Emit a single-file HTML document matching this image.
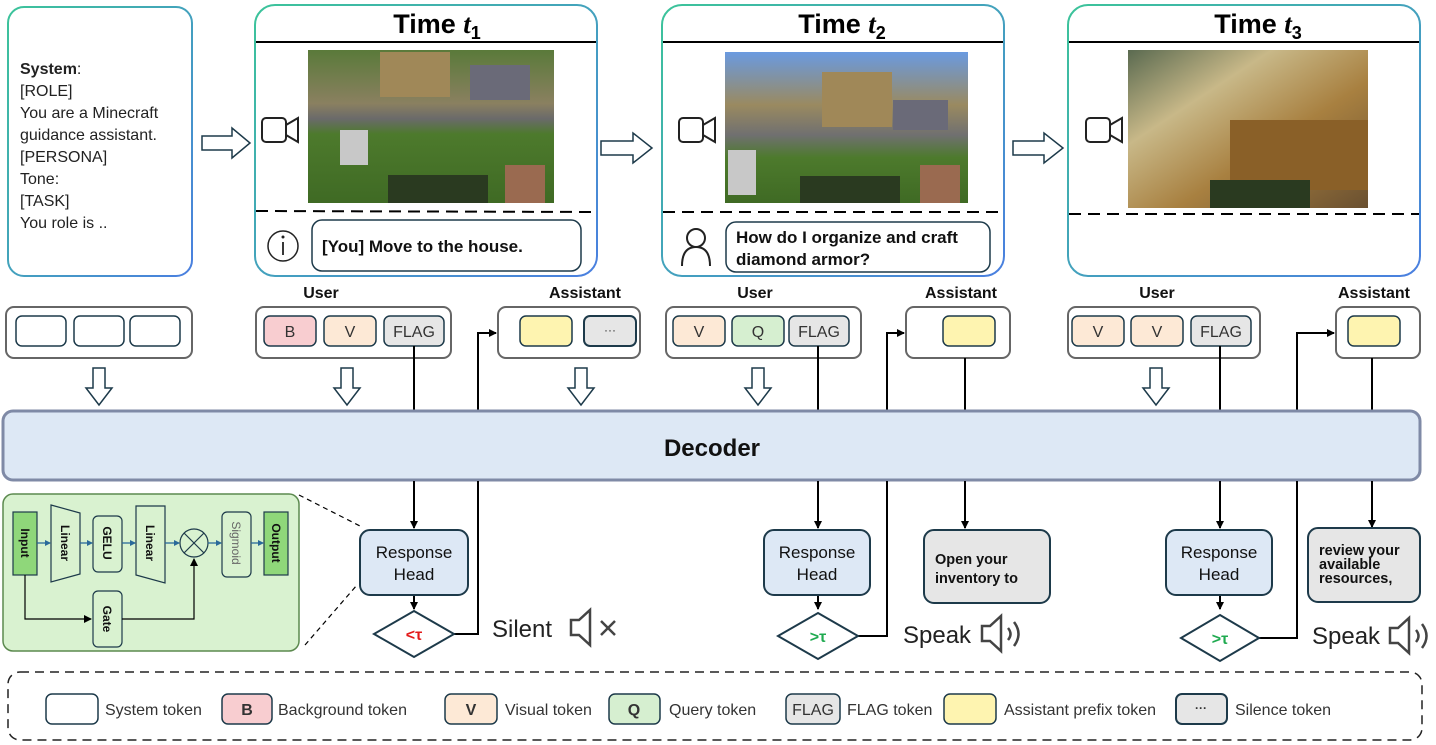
<!DOCTYPE html>
<html><head><meta charset="utf-8"><style>
html,body{margin:0;padding:0;background:#fff;}
svg{display:block;font-family:"Liberation Sans","DejaVu Sans",sans-serif;}
</style></head><body>
<svg width="1436" height="745" viewBox="0 0 1436 745" xmlns="http://www.w3.org/2000/svg">
<defs>
<linearGradient id="pg" x1="0" y1="0" x2="1" y2="1"><stop offset="0" stop-color="#3cc49a"/><stop offset="1" stop-color="#4a7fe0"/></linearGradient>
<marker id="ah" markerWidth="8" markerHeight="8" refX="7" refY="4" orient="auto" markerUnits="userSpaceOnUse"><path d="M0,0 L8,4 L0,8 z" fill="#000"/></marker>
<marker id="bh" markerWidth="6" markerHeight="6" refX="5" refY="3" orient="auto" markerUnits="userSpaceOnUse"><path d="M0,0 L6,3 L0,6 z" fill="#2a6a9a"/></marker>
<linearGradient id="sky" x1="0" y1="0" x2="0" y2="1"><stop offset="0" stop-color="#5a7a3a"/><stop offset="0.35" stop-color="#8a8060"/><stop offset="0.45" stop-color="#6a6a6a"/><stop offset="0.55" stop-color="#4d7a2c"/><stop offset="1" stop-color="#3f6a24"/></linearGradient>
<linearGradient id="sky2" x1="0" y1="0" x2="0" y2="1"><stop offset="0" stop-color="#6a9ae0"/><stop offset="0.35" stop-color="#9a8a60"/><stop offset="0.55" stop-color="#707070"/><stop offset="0.7" stop-color="#4d7a2c"/><stop offset="1" stop-color="#3f6a24"/></linearGradient>
<linearGradient id="sky3" x1="0" y1="0" x2="1" y2="1"><stop offset="0" stop-color="#5a6a50"/><stop offset="0.3" stop-color="#c8b888"/><stop offset="0.6" stop-color="#a88040"/><stop offset="1" stop-color="#6a5030"/></linearGradient>
</defs>

<!-- System panel -->
<rect x="8" y="7" width="184" height="269" rx="16" fill="#fff" stroke="url(#pg)" stroke-width="2"/>
<g font-size="16" fill="#222">
<text x="20" y="74"><tspan font-weight="bold">System</tspan>:</text>
<text x="20" y="96">[ROLE]</text>
<text x="20" y="118">You are a Minecraft</text>
<text x="20" y="140">guidance assistant.</text>
<text x="20" y="162">[PERSONA]</text>
<text x="20" y="184">Tone:</text>
<text x="20" y="206">[TASK]</text>
<text x="20" y="228">You role is ..</text>
</g>

<!-- hollow right arrows -->
<g fill="#fff" stroke="#1d3a4a" stroke-width="1.5">
<path d="M202,136 L232,136 L232,128 L250,143 L232,158 L232,150 L202,150 z"/>
<path d="M601,141 L633,141 L633,133 L652,148 L633,163 L633,155 L601,155 z"/>
<path d="M1013,141 L1044,141 L1044,133 L1063,148 L1044,163 L1044,155 L1013,155 z"/>
</g>

<!-- Panels -->
<g>
<rect x="255" y="5" width="342" height="271" rx="20" fill="#fff" stroke="url(#pg)" stroke-width="2"/>
<line x1="256" y1="42" x2="596" y2="42" stroke="#000" stroke-width="2"/>
<line x1="256" y1="211" x2="596" y2="212" stroke="#000" stroke-width="2" stroke-dasharray="12,7"/>
<text x="437" y="33" font-size="27" font-weight="bold" text-anchor="middle">Time <tspan font-family="Liberation Serif" font-style="italic">t</tspan><tspan font-size="18" dy="6">1</tspan></text>
<rect x="308" y="50" width="246" height="153" fill="url(#sky)"/>
<rect x="380" y="52" width="70" height="45" fill="#a08858"/>
<rect x="470" y="65" width="60" height="35" fill="#6a6a78"/>
<rect x="340" y="130" width="28" height="35" fill="#c8c8c8"/>
<rect x="388" y="175" width="100" height="28" fill="#2a3a20"/>
<rect x="505" y="165" width="40" height="38" fill="#9a6a50"/>
<rect x="262" y="118" width="24" height="24" rx="4" fill="none" stroke="#222" stroke-width="2"/>
<path d="M286,125 L298,118 L298,142 L286,135" fill="none" stroke="#222" stroke-width="2"/>
<circle cx="283" cy="246" r="15" fill="none" stroke="#222" stroke-width="1.5"/>
<line x1="283" y1="242" x2="283" y2="255" stroke="#222" stroke-width="1.8"/>
<circle cx="283" cy="237" r="1.5" fill="#222"/>
<rect x="312" y="220" width="269" height="51" rx="10" fill="#fff" stroke="#1d3a4a" stroke-width="1.5"/>
<text x="322" y="252" font-size="17" font-weight="bold" fill="#111">[You] Move to the house.</text>
</g>

<g>
<rect x="662" y="5" width="342" height="271" rx="20" fill="#fff" stroke="url(#pg)" stroke-width="2"/>
<line x1="663" y1="42" x2="1003" y2="42" stroke="#000" stroke-width="2"/>
<line x1="663" y1="212" x2="1003" y2="212" stroke="#000" stroke-width="2" stroke-dasharray="12,7"/>
<text x="842" y="33" font-size="27" font-weight="bold" text-anchor="middle">Time <tspan font-family="Liberation Serif" font-style="italic">t</tspan><tspan font-size="18" dy="6">2</tspan></text>
<rect x="725" y="52" width="243" height="151" fill="url(#sky2)"/>
<rect x="822" y="72" width="70" height="55" fill="#a08858"/>
<rect x="893" y="100" width="55" height="30" fill="#6a6a78"/>
<rect x="728" y="150" width="28" height="45" fill="#c8c8c8"/>
<rect x="800" y="176" width="100" height="27" fill="#2a3a20"/>
<rect x="920" y="165" width="40" height="38" fill="#9a6a50"/>
<rect x="679" y="118" width="24" height="24" rx="4" fill="none" stroke="#222" stroke-width="2"/>
<path d="M703,125 L715,118 L715,142 L703,135" fill="none" stroke="#222" stroke-width="2"/>
<circle cx="696" cy="238" r="9" fill="none" stroke="#222" stroke-width="2"/>
<path d="M682,266 Q682,247 696,247 Q710,247 710,266" fill="none" stroke="#222" stroke-width="2"/>
<rect x="726" y="222" width="264" height="50" rx="10" fill="#fff" stroke="#1d3a4a" stroke-width="1.5"/>
<text x="736" y="243" font-size="17" font-weight="bold" fill="#111">How do I organize and craft</text>
<text x="736" y="265" font-size="17" font-weight="bold" fill="#111">diamond armor?</text>
</g>

<g>
<rect x="1068" y="5" width="352" height="271" rx="20" fill="#fff" stroke="url(#pg)" stroke-width="2"/>
<line x1="1069" y1="42" x2="1419" y2="42" stroke="#000" stroke-width="2"/>
<line x1="1069" y1="214" x2="1419" y2="214" stroke="#000" stroke-width="2" stroke-dasharray="12,7"/>
<text x="1258" y="33" font-size="27" font-weight="bold" text-anchor="middle">Time <tspan font-family="Liberation Serif" font-style="italic">t</tspan><tspan font-size="18" dy="6">3</tspan></text>
<rect x="1128" y="50" width="240" height="158" fill="url(#sky3)"/>
<rect x="1230" y="120" width="138" height="70" fill="#8a6028"/>
<rect x="1210" y="180" width="100" height="28" fill="#2a3a20"/>
<rect x="1086" y="118" width="24" height="24" rx="4" fill="none" stroke="#222" stroke-width="2"/>
<path d="M1110,125 L1122,118 L1122,142 L1110,135" fill="none" stroke="#222" stroke-width="2"/>
</g>

<!-- labels -->
<g font-size="16" font-weight="bold" fill="#111" text-anchor="middle">
<text x="321" y="298">User</text>
<text x="585" y="298">Assistant</text>
<text x="755" y="298">User</text>
<text x="961" y="298">Assistant</text>
<text x="1157" y="298">User</text>
<text x="1374" y="298">Assistant</text>
</g>

<!-- token groups -->
<g fill="#fff" stroke="#666" stroke-width="2">
<rect x="6" y="307" width="186" height="51" rx="8"/>
<rect x="256" y="307" width="195" height="51" rx="8"/>
<rect x="498" y="307" width="142" height="51" rx="8"/>
<rect x="666" y="307" width="195" height="51" rx="8"/>
<rect x="906" y="307" width="104" height="51" rx="8"/>
<rect x="1068" y="307" width="192" height="51" rx="8"/>
<rect x="1336" y="307" width="84" height="51" rx="8"/>
</g>
<g stroke="#1d3a4a" stroke-width="1.5" font-size="16" text-anchor="middle" fill="#333">
<rect x="16" y="316" width="50" height="30" rx="6" fill="#fff"/>
<rect x="74" y="316" width="50" height="30" rx="6" fill="#fff"/>
<rect x="130" y="316" width="50" height="30" rx="6" fill="#fff"/>
<rect x="264" y="316" width="52" height="30" rx="6" fill="#f8cdd0"/>
<rect x="324" y="316" width="52" height="30" rx="6" fill="#fde9d6"/>
<rect x="384" y="316" width="60" height="30" rx="6" fill="#e6e6e6"/>
<rect x="520" y="316" width="52" height="30" rx="6" fill="#fef4b0"/>
<rect x="584" y="316" width="52" height="30" rx="6" fill="#e6e6e6" stroke-width="2"/>
<rect x="673" y="316" width="52" height="30" rx="6" fill="#fde9d6"/>
<rect x="732" y="316" width="52" height="30" rx="6" fill="#d6efd0"/>
<rect x="789" y="316" width="60" height="30" rx="6" fill="#e6e6e6"/>
<rect x="943" y="316" width="52" height="30" rx="6" fill="#fef4b0"/>
<rect x="1072" y="316" width="52" height="30" rx="6" fill="#fde9d6"/>
<rect x="1131" y="316" width="52" height="30" rx="6" fill="#fde9d6"/>
<rect x="1191" y="316" width="60" height="30" rx="6" fill="#e6e6e6"/>
<rect x="1348" y="316" width="52" height="30" rx="6" fill="#fef4b0"/>
</g>
<g font-size="16" text-anchor="middle" fill="#333">
<text x="290" y="337">B</text><text x="350" y="337">V</text><text x="414" y="337">FLAG</text>
<text x="610" y="334" font-size="12">···</text>
<text x="699" y="337">V</text><text x="758" y="337">Q</text><text x="819" y="337">FLAG</text>
<text x="1098" y="337">V</text><text x="1157" y="337">V</text><text x="1221" y="337">FLAG</text>
</g>

<!-- down hollow arrows -->
<g fill="#fff" stroke="#1d3a4a" stroke-width="1.5">
<path d="M93,368 L105,368 L105,388 L112,388 L99,405 L86,388 L93,388 z"/>
<path d="M341,368 L353,368 L353,388 L360,388 L347,405 L334,388 L341,388 z"/>
<path d="M575,368 L587,368 L587,388 L594,388 L581,405 L568,388 L575,388 z"/>
<path d="M752,368 L764,368 L764,388 L771,388 L758,405 L745,388 L752,388 z"/>
<path d="M1150,368 L1162,368 L1162,388 L1169,388 L1156,405 L1143,388 L1150,388 z"/>
</g>

<!-- connector lines above decoder -->
<g stroke="#000" stroke-width="2" fill="none">
<line x1="414" y1="346" x2="414" y2="411"/>
<polyline points="478,411 478,333 496,333" marker-end="url(#ah)"/>
<line x1="818" y1="346" x2="818" y2="411"/>
<polyline points="887,411 887,333 904,333" marker-end="url(#ah)"/>
<line x1="965" y1="358" x2="965" y2="411"/>
<line x1="1220" y1="346" x2="1220" y2="411"/>
<polyline points="1297,411 1297,333 1334,333" marker-end="url(#ah)"/>
<line x1="1372" y1="358" x2="1372" y2="411"/>
</g>

<!-- Decoder -->
<rect x="3" y="411" width="1417" height="69" rx="10" fill="#dde8f5" stroke="#7f8aa6" stroke-width="3"/>
<text x="712" y="456" font-size="24" font-weight="bold" text-anchor="middle" fill="#111">Decoder</text>

<!-- below decoder -->
<g stroke="#000" stroke-width="2" fill="none">
<line x1="414" y1="481" x2="414" y2="528" marker-end="url(#ah)"/>
<line x1="414" y1="595" x2="414" y2="609" marker-end="url(#ah)"/>
<polyline points="454,634 478,634 478,481"/>
<line x1="818" y1="481" x2="818" y2="528" marker-end="url(#ah)"/>
<line x1="818" y1="595" x2="818" y2="609" marker-end="url(#ah)"/>
<polyline points="858,636 887,636 887,481"/>
<line x1="965" y1="481" x2="965" y2="528" marker-end="url(#ah)"/>
<line x1="1220" y1="481" x2="1220" y2="528" marker-end="url(#ah)"/>
<line x1="1220" y1="595" x2="1220" y2="609" marker-end="url(#ah)"/>
<polyline points="1259,638 1297,638 1297,481"/>
<line x1="1372" y1="481" x2="1372" y2="527" marker-end="url(#ah)"/>
</g>

<!-- Response heads -->
<g fill="#dde8f5" stroke="#1d3a4a" stroke-width="2">
<rect x="360" y="530" width="108" height="65" rx="10"/>
<rect x="764" y="530" width="106" height="65" rx="10"/>
<rect x="1166" y="530" width="106" height="65" rx="10"/>
</g>
<g font-size="17" text-anchor="middle" fill="#111">
<text x="414" y="558">Response</text><text x="414" y="580">Head</text>
<text x="817" y="558">Response</text><text x="817" y="580">Head</text>
<text x="1219" y="558">Response</text><text x="1219" y="580">Head</text>
</g>
<!-- diamonds -->
<g fill="#fff" stroke="#1d3a4a" stroke-width="2">
<path d="M414,611 L454,634 L414,657 L374,634 z"/>
<path d="M818,613 L858,636 L818,659 L778,636 z"/>
<path d="M1220,615 L1259,638 L1220,661 L1181,638 z"/>
</g>
<g font-size="16" font-weight="bold" text-anchor="middle">
<text x="414" y="640" fill="#e31a1a">&lt;τ</text>
<text x="818" y="642" fill="#1faa50">&gt;τ</text>
<text x="1220" y="644" fill="#1faa50">&gt;τ</text>
</g>

<!-- outputs -->
<rect x="924" y="530" width="126" height="73" rx="10" fill="#e6e6e6" stroke="#1d3a4a" stroke-width="2"/>
<text x="935" y="564" font-size="14.5" font-weight="bold" fill="#111">Open your</text>
<text x="935" y="583" font-size="14.5" font-weight="bold" fill="#111">inventory to</text>
<rect x="1308" y="528" width="112" height="74" rx="10" fill="#e6e6e6" stroke="#1d3a4a" stroke-width="2"/>
<g font-size="14.5" font-weight="bold" fill="#111"><text x="1319" y="555">review your</text><text x="1319" y="569">available</text><text x="1319" y="583">resources,</text></g>

<!-- Silent / Speak -->
<text x="492" y="637" font-size="24" fill="#222">Silent</text>
<g stroke="#444" stroke-width="2.5" fill="none">
<path d="M571,620 L579,620 L590,610 L590,645 L579,635 L571,635 z"/>
<line x1="601" y1="621" x2="615" y2="635"/><line x1="615" y1="621" x2="601" y2="635"/>
</g>
<text x="903" y="643" font-size="24" fill="#222">Speak</text>
<g stroke="#444" stroke-width="2.5" fill="none">
<path d="M982,626 L990,626 L1001,616 L1001,651 L990,641 L982,641 z"/>
<path d="M1008,628 Q1013,634 1008,640"/><path d="M1014,622 Q1023,634 1014,646"/>
</g>
<text x="1312" y="644" font-size="24" fill="#222">Speak</text>
<g stroke="#444" stroke-width="2.5" fill="none">
<path d="M1390,628 L1398,628 L1409,618 L1409,653 L1398,643 L1390,643 z"/>
<path d="M1416,630 Q1421,636 1416,642"/><path d="M1422,624 Q1431,636 1422,648"/>
</g>

<!-- green module -->
<line x1="299" y1="495" x2="362" y2="527" stroke="#000" stroke-width="1.2" stroke-dasharray="5,4"/>
<line x1="305" y1="645" x2="357" y2="585" stroke="#000" stroke-width="1.2" stroke-dasharray="5,4"/>
<rect x="3" y="494" width="296" height="157" rx="10" fill="#d9f2d0" stroke="#5c8a4f" stroke-width="1.5"/>
<g stroke="#1d3a4a" stroke-width="1.2">
<rect x="13" y="512" width="24" height="63" fill="#8fd77a"/>
<path d="M51,505 L80,513 L80,574 L51,582 z" fill="#d9f2d0"/>
<rect x="93" y="516" width="29" height="56" rx="5" fill="#d9f2d0"/>
<path d="M136,506 L165,506 L165,583 L136,575 z" fill="#d9f2d0"/>
<circle cx="194" cy="543" r="14" fill="#d9f2d0"/>
<line x1="184" y1="533" x2="204" y2="553"/><line x1="204" y1="533" x2="184" y2="553"/>
<rect x="222" y="512" width="29" height="65" rx="5" fill="#d9f2d0"/>
<rect x="264" y="512" width="24" height="63" fill="#8fd77a"/>
<rect x="93" y="591" width="29" height="56" rx="5" fill="#d9f2d0"/>
</g>
<g stroke="#2a6a9a" stroke-width="1.3">
<line x1="37" y1="543" x2="50" y2="543" marker-end="url(#bh)"/>
<line x1="80" y1="543" x2="92" y2="543" marker-end="url(#bh)"/>
<line x1="122" y1="543" x2="135" y2="543" marker-end="url(#bh)"/>
<line x1="165" y1="543" x2="179" y2="543" marker-end="url(#bh)"/>
<line x1="208" y1="543" x2="221" y2="543" marker-end="url(#bh)"/>
<line x1="251" y1="543" x2="263" y2="543" marker-end="url(#bh)"/>
</g>
<g stroke="#000" stroke-width="1.2" fill="none">
<polyline points="25,575 25,619 91,619" marker-end="url(#ah)"/>
<polyline points="122,619 194,619 194,559" marker-end="url(#ah)"/>
</g>
<g font-size="12" font-weight="bold" fill="#111" text-anchor="middle">
<text transform="translate(21,543) rotate(90)">Input</text>
<text transform="translate(61,543) rotate(90)">Linear</text>
<text transform="translate(103,543) rotate(90)">GELU</text>
<text transform="translate(146,543) rotate(90)">Linear</text>
<text transform="translate(232,543) rotate(90)" font-weight="normal" fill="#666">Sigmoid</text>
<text transform="translate(272,543) rotate(90)">Output</text>
<text transform="translate(103,619) rotate(90)">Gate</text>
</g>

<!-- legend -->
<rect x="8" y="672" width="1414" height="68" rx="12" fill="#fff" stroke="#222" stroke-width="1.5" stroke-dasharray="9,6"/>
<g stroke="#1d3a4a" stroke-width="1.5">
<rect x="46" y="694" width="52" height="30" rx="6" fill="#fff"/>
<rect x="222" y="694" width="50" height="30" rx="6" fill="#f8cdd0"/>
<rect x="445" y="694" width="52" height="30" rx="6" fill="#fde9d6"/>
<rect x="609" y="694" width="51" height="30" rx="6" fill="#d6efd0"/>
<rect x="786" y="694" width="54" height="30" rx="6" fill="#e6e6e6"/>
<rect x="944" y="694" width="52" height="30" rx="6" fill="#fef4b0"/>
<rect x="1176" y="694" width="51" height="30" rx="6" fill="#e6e6e6" stroke-width="2"/>
</g>
<g font-size="16" fill="#333">
<text x="247" y="715" text-anchor="middle" font-weight="bold">B</text>
<text x="471" y="715" text-anchor="middle" font-weight="bold">V</text>
<text x="634" y="715" text-anchor="middle" font-weight="bold">Q</text>
<text x="813" y="715" text-anchor="middle">FLAG</text>
<text x="1201" y="712" text-anchor="middle" font-size="12" font-weight="bold">···</text>
<text x="105" y="715">System token</text>
<text x="278" y="715">Background token</text>
<text x="505" y="715">Visual token</text>
<text x="669" y="715">Query token</text>
<text x="847" y="715">FLAG token</text>
<text x="1004" y="715">Assistant prefix token</text>
<text x="1235" y="715">Silence token</text>
</g>
</svg>
</body></html>
